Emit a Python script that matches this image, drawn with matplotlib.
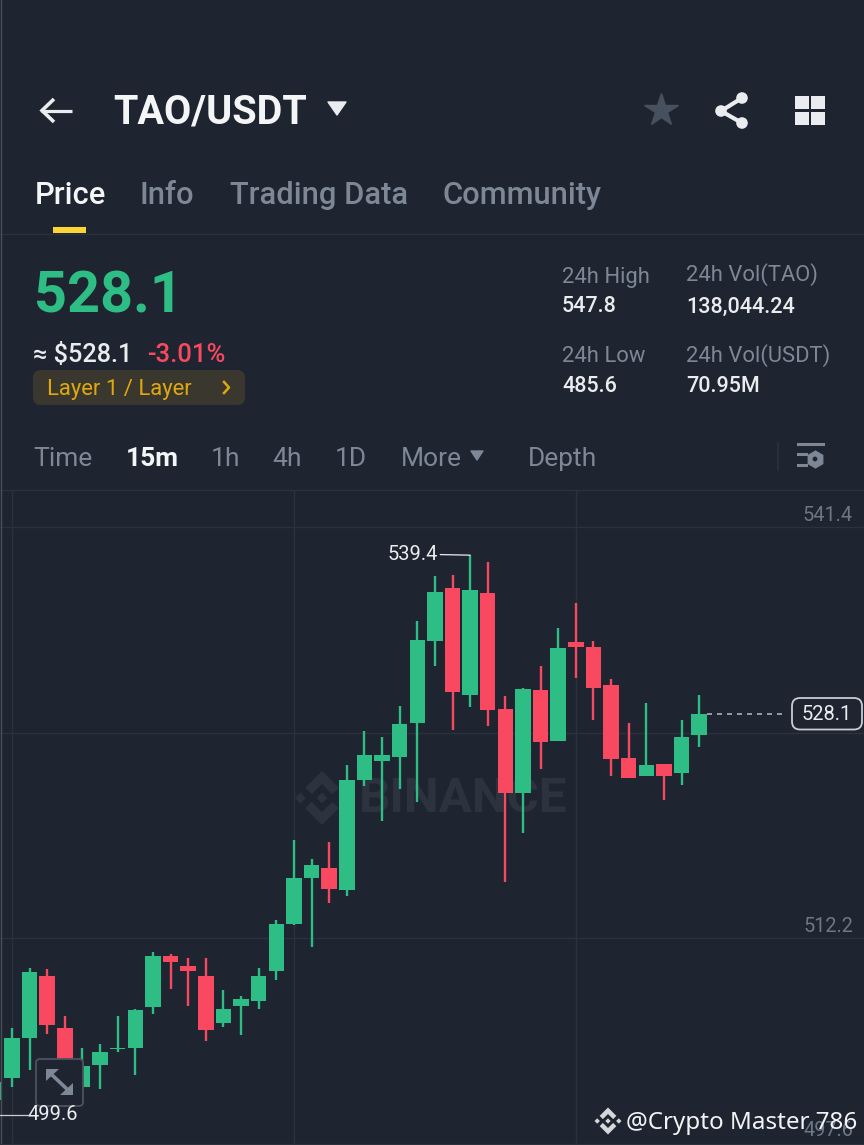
import numpy as np
import matplotlib
matplotlib.use("Agg")
import matplotlib.pyplot as plt
from matplotlib.patches import Polygon, FancyBboxPatch, Rectangle, Circle

# 15m candles, left to right, first one is cut off by the screen edge
opens = [500.7, 502.3, 505.1, 509.5, 505.8, 501.6, 503.2, 504.3, 504.4, 507.3, 510.9,
         510.2, 509.5, 506.2, 507.4, 507.7, 509.9, 513.2, 516.5, 517.2, 515.6, 523.4,
         524.8, 525.1, 527.5, 533.3, 537.1, 529.5, 536.7, 528.5, 522.5, 529.8, 526.2,
         533.2, 532.9, 530.2, 525.0, 523.7, 524.6, 523.9, 526.6]
highs = [502.5, 505.8, 510.1, 510.0, 506.7, 504.4, 504.7, 506.7, 507.2, 511.2, 511.1,
         510.8, 510.8, 508.5, 508.1, 510.1, 513.5, 519.2, 517.8, 519.0, 524.5, 526.9,
         526.5, 528.7, 534.7, 537.9, 538.0, 539.4, 538.9, 529.4, 530.0, 531.5, 534.2,
         536.0, 533.3, 530.6, 527.5, 528.9, 524.6, 527.7, 529.5]
lows = [499.6, 501.6, 502.8, 505.4, 500.2, 501.5, 501.5, 504.1, 502.5, 506.8, 508.6,
        507.4, 504.9, 505.9, 505.3, 507.2, 509.2, 513.1, 511.6, 514.7, 515.2, 523.0,
        520.5, 522.8, 521.9, 531.5, 527.0, 528.6, 527.3, 516.2, 519.7, 524.2, 526.2,
        530.7, 527.7, 523.7, 523.6, 523.7, 522.0, 523.1, 525.8]
closes = [502.0, 505.1, 509.8, 506.0, 501.6, 503.1, 504.1, 504.4, 507.1, 510.9, 510.5,
          509.9, 505.7, 507.2, 507.9, 509.5, 513.2, 516.5, 517.4, 515.7, 523.4, 525.2,
          525.2, 527.4, 533.4, 536.8, 529.7, 536.9, 528.4, 522.5, 529.9, 526.1, 532.8,
          532.9, 530.0, 524.9, 523.6, 524.5, 523.7, 526.5, 528.1]
first_index = -1

price_ticks = [541.4, 526.8, 512.2, 497.6]
price_labels = ["541.4", "", "512.2", "497.6"]
time_grid = [0, 16, 32]
last_price = 528.1
high_price = 539.4
low_price = 499.6

tabs = ["Price", "Info", "Trading Data", "Community"]
intervals = ["Time", "15m", "1h", "4h", "1D", "More", "Depth"]

BG = "#1e2530"
GRID = "#2b323e"
GREEN = "#2ebd85"
RED = "#f84960"
GREY = "#7d8796"
LIGHT = "#eaecef"
FONT = "Roboto"

plt.rcParams["font.family"] = [FONT, "DejaVu Sans"]

W, H = 864, 1145
fig = plt.figure(figsize=(W / 100, H / 100), dpi=100, facecolor=BG)

# chart area, scale taken from the grid lines: 14.08 px per 1 USDT, 17.62 px per candle
X0 = 12.0
ax = fig.add_axes([0, 0, 1, (H - 490) / H], zorder=1)
ax.set_facecolor(BG)
ax.set_xlim((0 - X0) / 17.62, (W - X0) / 17.62)
ax.set_ylim(541.4 - (H - 527) / 14.08, 541.4 + (527 - 490) / 14.08)
ax.axis("off")

# full figure overlay in pixels for the app chrome
ui = fig.add_axes([0, 0, 1, 1], zorder=2)
ui.set_xlim(0, W)
ui.set_ylim(H, 0)
ui.axis("off")
ui.patch.set_alpha(0)


def label(x, y, s, size, color, weight="normal", ha="left", target=None, z=5, family=None):
    (target or ui).text(x, y, s, fontsize=size, color=color, fontweight=weight, ha=ha,
                        va="center", zorder=z, family=family or [FONT, "DejaVu Sans"],
                        transform=ui.transData)


def binance_logo(target, cx, cy, s, color, z=5):
    # s = half height of the whole mark
    d = s * 0.2
    parts = [
        [(cx, cy - d), (cx + d, cy), (cx, cy + d), (cx - d, cy)],
        [(cx - s, cy), (cx - s + d, cy - d), (cx - s + 2 * d, cy), (cx - s + d, cy + d)],
        [(cx + s, cy), (cx + s - d, cy - d), (cx + s - 2 * d, cy), (cx + s - d, cy + d)],
        [(cx, cy - s), (cx + 0.62 * s, cy - 0.38 * s), (cx + 0.38 * s, cy - 0.14 * s), (cx, cy - 0.52 * s),
         (cx - 0.38 * s, cy - 0.14 * s), (cx - 0.62 * s, cy - 0.38 * s)],
        [(cx, cy + s), (cx + 0.62 * s, cy + 0.38 * s), (cx + 0.38 * s, cy + 0.14 * s), (cx, cy + 0.52 * s),
         (cx - 0.38 * s, cy + 0.14 * s), (cx - 0.62 * s, cy + 0.38 * s)],
    ]
    for p in parts:
        target.add_patch(Polygon(p, closed=True, fc=color, ec="none", zorder=z, transform=ui.transData))


# --- grid ---
for p in price_ticks:
    ax.axhline(p, color=GRID, lw=1.0, zorder=1)
for t in time_grid:
    ax.axvline(t, color=GRID, lw=1.0, zorder=1)

# --- watermark ---
binance_logo(ax, 322, 798, 27, "#2c333f", z=1.5)
ax.text(359, 799, "BINANCE", fontsize=35.5, color="#2c333f", fontweight="bold", ha="left", va="center",
        transform=ui.transData, zorder=1.5)

# --- candles ---
xs = np.arange(first_index, first_index + len(opens))
o, h, l, c = map(np.array, (opens, highs, lows, closes))
colors = np.where(c >= o, GREEN, RED)
ax.vlines(xs, l, h, colors=colors, lw=1.7, zorder=2)
ax.bar(xs, np.abs(c - o), bottom=np.minimum(o, c), width=0.88, color=colors, edgecolor="none", zorder=3)

# --- price labels on the right ---
for p, s in zip(price_ticks[:3], price_labels[:3]):
    if s:
        ax.annotate(s, xy=(1, p), xycoords=("axes fraction", "data"), xytext=(-8, 8.5), textcoords="offset points",
                    fontsize=14.3, color="#6e7785", ha="right", va="center", zorder=4)

# last price marker
ax.hlines(last_price, xs[-1] + 0.45, (782 - X0) / 17.62, colors="#aab0ba", lw=1.2, linestyles=(0, (3, 3)), zorder=4)
ui.add_patch(FancyBboxPatch((792, 698), 70, 31.5, boxstyle="round,pad=0,rounding_size=8",
                            fc=BG, ec="#c9ccd1", lw=1.3, zorder=4))
label(827, 715, f"{last_price}", 14.5, LIGHT, ha="center")

# high / low callouts
ax.annotate(f"{high_price}", xy=(26, high_price), xytext=(-23.5, 0.8), textcoords="offset points", fontsize=14.5, color=LIGHT,
            ha="right", va="center", arrowprops=dict(arrowstyle="-", color=LIGHT, lw=0.9, shrinkA=0, shrinkB=0),
            zorder=5)
label(28, 1114, f"{low_price}", 14.5, LIGHT)
ui.plot([0, 27.5], [1114.5, 1114.5], color="#c9ccd1", lw=0.9, zorder=5)

# expand button
ui.add_patch(FancyBboxPatch((36, 1059), 47, 47, boxstyle="round,pad=0,rounding_size=4",
                            fc=BG, ec="#4b5361", lw=1.3, zorder=4))
ui.plot([50, 69], [1073, 1091], color="#7d8796", lw=2.6, zorder=5, solid_capstyle="butt")
ui.add_patch(Polygon([(46, 1069), (59, 1069), (46, 1081)], fc="#7d8796", ec="none", zorder=5))
ui.add_patch(Polygon([(73, 1095), (60, 1095), (73, 1083)], fc="#7d8796", ec="none", zorder=5))

# watermark credit, sits on top of the 497.6 label
label(853, 1131, price_labels[3], 14.3, "#6e7785", ha="right")
binance_logo(ui, 608, 1121, 13.5, "#d5d7da", z=6)
label(626, 1123, "@Crypto Master 786", 17.4, "#f2f3f5", z=6, family=["Noto Sans", "DejaVu Sans"])

# --- header ---
ui.plot([41, 72], [110.5, 110.5], color=LIGHT, lw=2.3, solid_capstyle="butt")
ui.plot([54, 42, 54], [99, 110.5, 122], color=LIGHT, lw=2.6, solid_joinstyle="miter", solid_capstyle="butt")
label(113, 113, "TAO/USDT", 28.5, "#f4f5f6", weight="bold")
ui.add_patch(Polygon([(328, 102), (346, 102), (337, 115)], fc=LIGHT, ec=LIGHT, lw=1, joinstyle="round"))

ui.plot([661], [110], marker="*", ms=25, color="#47505f", mec="#47505f")

share = [(721, 111), (742, 98), (742, 123)]
ui.plot([share[1][0], share[0][0], share[2][0]], [share[1][1], share[0][1], share[2][1]], color=LIGHT, lw=3)
for cxy in share:
    ui.add_patch(Circle(cxy, 5.8, fc=LIGHT, ec="none"))

for gx, gy in [(795, 96), (811, 96), (795, 112), (811, 112)]:
    ui.add_patch(Rectangle((gx, gy), 13.5, 13, fc=LIGHT, ec="none"))

# --- tabs ---
tab_x = [35, 139, 230, 443]
for i, (t, x) in enumerate(zip(tabs, tab_x)):
    label(x, 196, t, 22.2, "#f4f5f6" if i == 0 else GREY, weight="medium")
ui.add_patch(Rectangle((53, 227), 33, 6, fc="#fcd535", ec="none", zorder=3))
ui.plot([0, W], [234, 234], color=GRID, lw=1)

# --- price block ---
label(34, 297, "528.1", 41.5, GREEN, weight="bold")
label(33, 355, "≈ $528.1", 18.2, LIGHT, weight="medium")
label(147, 355, "-3.01%", 18.5, RED, weight="medium")
ui.add_patch(FancyBboxPatch((33, 370), 212, 35, boxstyle="round,pad=0,rounding_size=8", fc="#3a372e", ec="none"))
label(47, 389, "Layer 1 / Layer", 15.8, "#e0a80e")
ui.plot([224, 229, 224], [382, 387.5, 393], color="#e0a80e", lw=1.8)

stats = [(562, 277, "24h High", 307, "547.8"), (686, 275, "24h Vol(TAO)", 307, "138,044.24"),
         (562, 357, "24h Low", 387, "485.6"), (686, 356, "24h Vol(USDT)", 386, "70.95M")]
for x, y1, name, y2, val in stats:
    label(x, y1, name, 15.8, GREY)
    label(x, y2, val, 15.5, LIGHT, weight="medium")

# --- interval bar ---
int_x = [33, 126, 211, 272, 335, 401, 528]
for t, x in zip(intervals, int_x):
    label(x, 459, t, 19, "#f4f5f6" if t == "15m" else GREY, weight="bold" if t == "15m" else "normal")
ui.add_patch(Polygon([(471, 451), (483, 451), (477, 460)], fc=GREY, ec=GREY, lw=1, joinstyle="round"))
ui.plot([777.5, 777.5], [443, 470], color=GRID, lw=1.2)
ui.plot([798, 823], [444, 444], color=GREY, lw=2.2)
ui.plot([798, 806], [454, 454], color=GREY, lw=2.2)
ui.plot([798, 806], [465, 465], color=GREY, lw=2.2)
ui.plot([815], [459], marker="h", ms=12, color=GREY, mec=GREY)
ui.add_patch(Circle((815, 459), 2.4, fc=BG, ec="none", zorder=4))
ui.plot([0, W], [490, 490], color=GRID, lw=1)

# left screen edge
ui.plot([0.5, 0.5], [0, H], color="#4a4f57", lw=1)
ui.plot([0, W], [H - 1.5, H - 1.5], color=GRID, lw=0.8)

fig.savefig("out.png", dpi=100, facecolor=BG)
